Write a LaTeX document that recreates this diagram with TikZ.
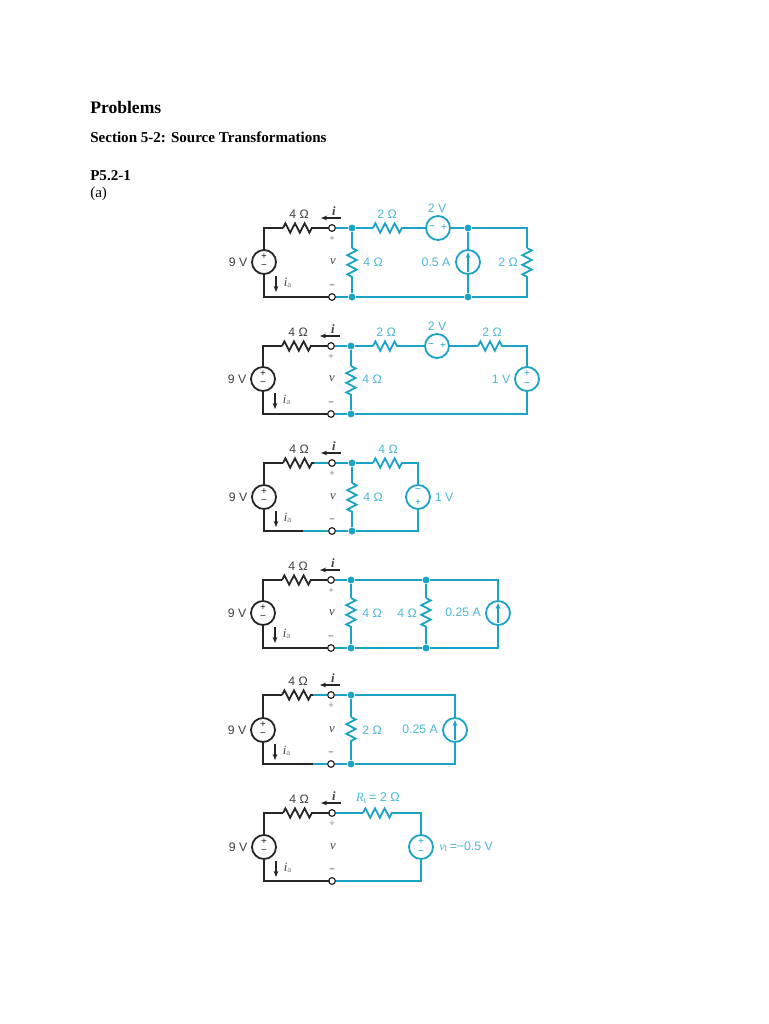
\documentclass[tikz,border=0pt]{standalone}
\usepackage{fontspec}
\setmainfont{Liberation Serif}
\setsansfont{Liberation Sans}
\usetikzlibrary{arrows.meta,decorations.pathmorphing}
\definecolor{wireblue}{HTML}{1BA3C6}
\definecolor{textblue}{HTML}{4DB8D4}
\definecolor{textdark}{HTML}{404040}
\tikzset{
 wk/.style={draw=black!85,line width=1.35pt},
 wb/.style={draw=wireblue,line width=1.35pt},
 res/.style={decorate,decoration={zigzag,segment length=7.2pt,amplitude=3.5pt}},
 srck/.style={circle,draw=black!85,fill=white,line width=1.35pt,minimum size=18pt,inner sep=0pt},
 srcb/.style={circle,draw=wireblue,fill=white,line width=1.35pt,minimum size=18pt,inner sep=0pt},
 term/.style={circle,draw=black!85,fill=white,line width=.9pt,minimum size=5pt,inner sep=0pt},
 jun/.style={circle,fill=wireblue,minimum size=5.2pt,inner sep=0pt},
 lk/.style={font=\sffamily\fontsize{9.2}{10}\selectfont,text=textdark,inner sep=0pt},
 lb/.style={font=\sffamily\fontsize{9.2}{10}\selectfont,text=textblue,inner sep=0pt},
 sg/.style={font=\sffamily\fontsize{7.5}{8}\selectfont,inner sep=0pt},
 lv/.style={font=\itshape\fontsize{9.5}{10}\selectfont,text=black!75,inner sep=0pt},
 pm/.style={font=\sffamily\fontsize{7}{7}\selectfont,text=black!45,inner sep=0pt},
 ar/.style={draw=black!85,line width=.8pt,-{Stealth[length=4.6pt,width=3.6pt]}},
 arb/.style={draw=wireblue,line width=.8pt,-{Stealth[length=4.6pt,width=3.6pt]}},
 head/.style={font=\bfseries,anchor=base west,inner sep=0pt},
}
% prefix, xL, ytop, ybot, ysrc, top black end, bottom black end, subscript
\newcommand\leftpart{}
\renewcommand\leftpart[8]{%
 \node[srck] (#1s) at (#2,#5) {};
 \node[sg,text=black!85] (#1sp) at (#2,#5-5) {+};
 \node[sg,text=black!85] (#1sm) at (#2,#5+5) {−};
 \node[term] (#1tt) at (#2+68,#3) {};
 \node[term] (#1tb) at (#2+68,#4) {};
 \coordinate (#1ra) at (#2+19,#3);
 \coordinate (#1rb) at (#2+50,#3);
 \coordinate (#1ct) at (#6,#3);
 \coordinate (#1cb) at (#7,#4);
 \draw[wb] (#1rb) -- (#1tt);
 \draw[wb] (#1cb) -- (#1tb);
 \draw[wk] (#1rb) -- (#1ct);
 \draw[wk] (#1s) |- (#1ra);
 \draw[wk,res] (#1ra) -- (#1rb);
 \draw[wk] (#1s) |- (#1cb);
 \node[lk] (#1lr) at (#2+35,#3-14) {4 Ω};
 \node[lv,font=\bfseries\itshape\fontsize{9.5}{10}\selectfont] (#1li) at (#2+70,#3-17) {i};
 \coordinate (#1aa) at (#2+77,#3-10);
 \coordinate (#1ab) at (#2+57,#3-10);
 \draw[ar] (#1aa) -- (#1ab);
 \node[pm] (#1lp) at (#2+68,#3+11) {+};
 \node[lv] (#1lv) at (#2+69,#5) {v};
 \node[pm,text=black!75] (#1lm) at (#2+68,#4-10) {−};
 \node[lk] (#1l9) at (#2-26,#5) {9 V};
 \coordinate (#1ba) at (#2+12,#5+14);
 \coordinate (#1bb) at (#2+12,#5+30);
 \draw[ar] (#1ba) -- (#1bb);
 \node[lv] (#1lia) at (#2+24,#5+21) {i\textsubscript{\upshape\color{black!50}#8}};
}
\begin{document}
\begin{tikzpicture}[x=.75pt,y=-.75pt]
\useasboundingbox[fill=white] (0,0) rectangle (768,1024);
\node[head,font=\bfseries\fontsize{13.2}{15}\selectfont] (title) at (90,113.4) {Problems};
\node[head,font=\bfseries\fontsize{11.3}{13}\selectfont] (sect) at (90,142.4) {Section 5-2: Source Transformations};
\node[head,font=\bfseries\fontsize{11.3}{13}\selectfont] (prob) at (90,180) {P5.2-1};
\node[head,font=\fontsize{11.3}{13}\selectfont] (parta) at (90,197) {(a)};

% ---------- circuit 1
\leftpart{a}{264}{228}{297}{262}{329}{329}{a}
\node[jun] (aj1) at (352,228) {};
\node[jun] (aj2) at (352,297) {};
\node[jun] (aj3) at (468,228) {};
\node[jun] (aj4) at (468,297) {};
\node[srcb] (av) at (438,228) {};
\node[sg,text=wireblue] at (432,228) {−};
\node[sg,text=wireblue] at (444,228) {+};
\node[srcb] (ai) at (468,262) {};
\coordinate (aia) at (468,272); \coordinate (aib) at (468,252);
\draw[arb] (aia) -- (aib);
\coordinate (a1a) at (373,228); \coordinate (a1b) at (402,228);
\coordinate (a2a) at (352,248); \coordinate (a2b) at (352,277);
\coordinate (a3a) at (527,248); \coordinate (a3b) at (527,277);
\coordinate (acr) at (527,228); \coordinate (acs) at (527,297);
\draw[wb] (atb) -- (aj2); \draw[wb] (aj2) -- (aj4); \draw[wb] (aj4) -- (acs) -- (a3b);
\draw[wb] (att) -- (aj1); \draw[wb] (aj1) -- (a1a); \draw[wb] (a1b) -- (av);
\draw[wb] (av) -- (aj3); \draw[wb] (aj3) -- (acr) -- (a3a);
\draw[wb] (aj1) -- (a2a); \draw[wb] (a2b) -- (aj2);
\draw[wb] (aj3) -- (ai); \draw[wb] (ai) -- (aj4);
\draw[wb,res] (a1a) -- (a1b);
\draw[wb,res] (a2a) -- (a2b);
\draw[wb,res] (a3a) -- (a3b);
\node[lb] at (387,214) {2 Ω};
\node[lb] at (437,208) {2 V};
\node[lb] at (373,262) {4 Ω};
\node[lb] at (436,262) {0.5 A};
\node[lb] at (508,262) {2 Ω};

% ---------- circuit 2
\leftpart{b}{263}{346}{414}{379}{328}{328}{a}
\node[jun] (bj1) at (351,346) {};
\node[jun] (bj2) at (351,414) {};
\node[srcb] (bv) at (437,346) {};
\node[sg,text=wireblue] at (431,346) {−};
\node[sg,text=wireblue] at (443,346) {+};
\node[srcb] (bw) at (527,379) {};
\node[sg,text=wireblue] at (527,374) {+};
\node[sg,text=wireblue] at (527,385) {−};
\coordinate (b1a) at (373,346); \coordinate (b1b) at (401,346);
\coordinate (b2a) at (351,366); \coordinate (b2b) at (351,395);
\coordinate (b3a) at (478,346); \coordinate (b3b) at (506,346);
\draw[wb] (btt) -- (bj1); \draw[wb] (bj1) -- (b1a); \draw[wb] (b1b) -- (bv);
\draw[wb] (bv) -- (b3a); \draw[wb] (b3b) -| (bw);
\draw[wb] (btb) -- (bj2); \draw[wb] (bj2) -| (bw);
\draw[wb] (bj1) -- (b2a); \draw[wb] (b2b) -- (bj2);
\draw[wb,res] (b1a) -- (b1b);
\draw[wb,res] (b2a) -- (b2b);
\draw[wb,res] (b3a) -- (b3b);
\node[lb] at (386,332) {2 Ω};
\node[lb] at (437,326) {2 V};
\node[lb] at (492,332) {2 Ω};
\node[lb] at (372,379) {4 Ω};
\node[lb] at (501,379) {1 V};

% ---------- circuit 3
\leftpart{c}{264}{463}{531}{497}{314}{303}{a}
\node[jun] (cj1) at (352,463) {};
\node[jun] (cj2) at (352,531) {};
\node[srcb] (cw) at (418,497) {};
\node[sg,text=wireblue] at (418,491) {−};
\node[sg,text=wireblue] at (418,503) {+};
\coordinate (c1a) at (373,463); \coordinate (c1b) at (402,463);
\coordinate (c2a) at (352,483); \coordinate (c2b) at (352,512);
\draw[wb] (ctt) -- (cj1); \draw[wb] (cj1) -- (c1a); \draw[wb] (c1b) -| (cw);
\draw[wb] (ctb) -- (cj2); \draw[wb] (cj2) -| (cw);
\draw[wb] (cj1) -- (c2a); \draw[wb] (c2b) -- (cj2);
\draw[wb,res] (c1a) -- (c1b);
\draw[wb,res] (c2a) -- (c2b);
\node[lb] at (388,449) {4 Ω};
\node[lb] at (373,497) {4 Ω};
\node[lb] at (444,497) {1 V};

% ---------- circuit 4
\leftpart{d}{263}{580}{648}{613}{328}{328}{a}
\node[jun] (dj1) at (351,580) {};
\node[jun] (dj2) at (351,648) {};
\node[jun] (dj3) at (426,580) {};
\node[jun] (dj4) at (426,648) {};
\node[srcb] (di) at (498,613) {};
\coordinate (dia) at (498,623); \coordinate (dib) at (498,603);
\draw[arb] (dia) -- (dib);
\coordinate (d1a) at (351,598); \coordinate (d1b) at (351,628);
\coordinate (d2a) at (426,598); \coordinate (d2b) at (426,628);
\draw[wb] (dtt) -- (dj1); \draw[wb] (dj1) -- (dj3); \draw[wb] (dj3) -| (di);
\draw[wb] (dtb) -- (dj2); \draw[wb] (dj2) -- (dj4); \draw[wb] (dj4) -| (di);
\draw[wb] (dj1) -- (d1a); \draw[wb] (d1b) -- (dj2);
\draw[wb] (dj3) -- (d2a); \draw[wb] (d2b) -- (dj4);
\draw[wb,res] (d1a) -- (d1b);
\draw[wb,res] (d2a) -- (d2b);
\node[lb] at (372,613) {4 Ω};
\node[lb] at (407,613) {4 Ω};
\node[lb] at (463,612) {0.25 A};

% ---------- circuit 5
\leftpart{e}{263}{695}{764}{730}{313}{313}{a}
\node[jun] (ej1) at (351,695) {};
\node[jun] (ej2) at (351,764) {};
\node[srcb] (ei) at (455,730) {};
\coordinate (eia) at (455,740); \coordinate (eib) at (455,720);
\draw[arb] (eia) -- (eib);
\coordinate (e1a) at (351,717); \coordinate (e1b) at (351,744);
\draw[wb] (ett) -- (ej1); \draw[wb] (ej1) -| (ei);
\draw[wb] (etb) -- (ej2); \draw[wb] (ej2) -| (ei);
\draw[wb] (ej1) -- (e1a); \draw[wb] (e1b) -- (ej2);
\draw[wb,res] (e1a) -- (e1b);
\node[lb] at (372,730) {2 Ω};
\node[lb] at (420,729) {0.25 A};

% ---------- circuit 6
\leftpart{f}{264}{813}{881}{847}{330}{330}{a}
\node[srcb] (fw) at (421,847) {};
\node[sg,text=wireblue] at (421,842) {+};
\node[sg,text=wireblue] at (421,853) {−};
\coordinate (f1a) at (363,813); \coordinate (f1b) at (392,813);
\draw[wb] (ftt) -- (f1a); \draw[wb] (f1b) -| (fw);
\draw[wb] (ftb) -| (fw);
\draw[wb,res] (f1a) -- (f1b);
\node[lb,font=\fontsize{9.5}{10}\selectfont] at (378,798) {\textit{R}\textsubscript{t}\,\sffamily = 2 Ω};
\node[lb,anchor=west] at (439,847) {{\rmfamily\itshape v}\textsubscript{t}\,=−0.5 V};
\end{tikzpicture}
\end{document}
